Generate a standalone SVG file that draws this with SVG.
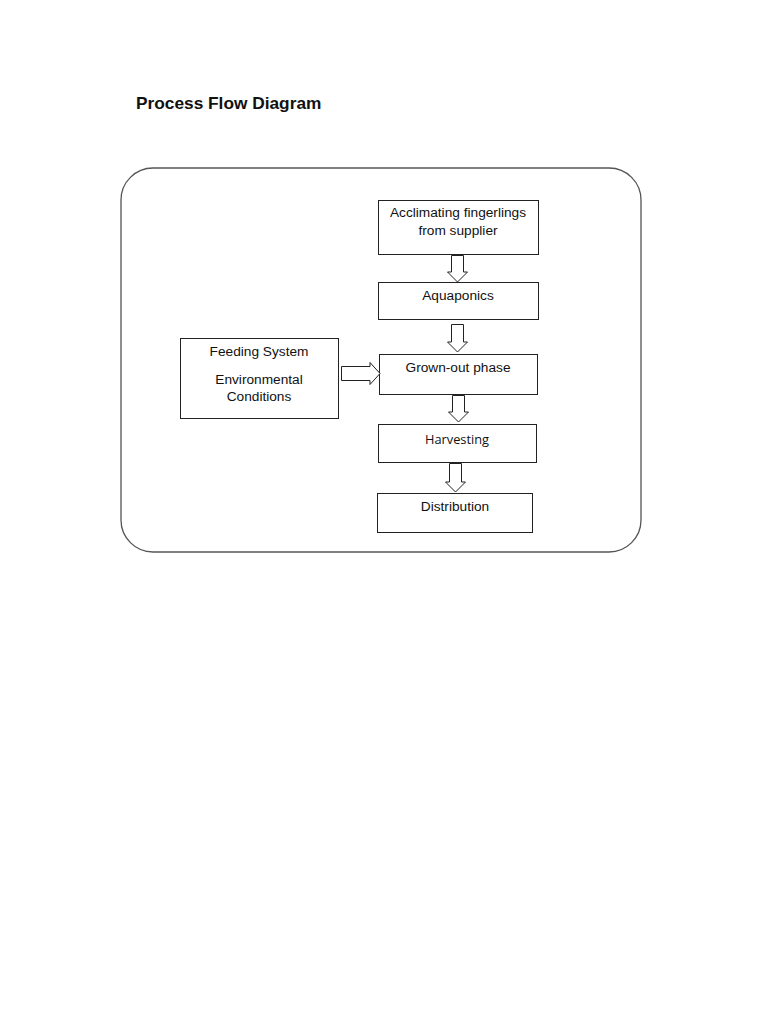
<svg xmlns="http://www.w3.org/2000/svg" width="768" height="1024" viewBox="0 0 768 1024">
<style>
.box{fill:#fff;stroke:#222;stroke-width:1}
.t{font-family:"Liberation Sans",Arial,sans-serif;font-size:13.7px;fill:#111;text-anchor:middle}
.c{font-family:"Open Sans","Liberation Sans",sans-serif;font-size:12.8px;fill:#111;text-anchor:middle}
.arr{fill:#fff;stroke:#222;stroke-width:1}
</style>
<rect width="768" height="1024" fill="#fff"/>
<text x="136" y="109" font-family="Liberation Sans,Arial,sans-serif" font-weight="bold" font-size="17.3" fill="#111">Process Flow Diagram</text>
<rect x="121" y="168" width="520" height="384" rx="32" ry="32" fill="none" stroke="#555" stroke-width="1.3"/>
<g id="n1"><rect class="box" x="378.5" y="200.5" width="160" height="54"/><text class="t" x="458" y="217">Acclimating fingerlings</text><text class="t" x="458" y="235">from supplier</text></g>
<g id="n2"><rect class="box" x="378.5" y="282.5" width="160" height="37"/><text class="t" x="458" y="300">Aquaponics</text></g>
<g id="n3"><rect class="box" x="180.5" y="338.5" width="158" height="80"/><text class="t" x="259" y="356">Feeding System</text><text class="t" x="259" y="384">Environmental</text><text class="t" x="259" y="401">Conditions</text></g>
<g id="n4"><rect class="box" x="379.5" y="354.5" width="158" height="40"/><text class="t" x="458" y="372">Grown-out phase</text></g>
<g id="n5"><rect class="box" x="378.5" y="424.5" width="158" height="38"/><text class="c" x="457" y="444">Harvesting</text></g>
<g id="n6"><rect class="box" x="377.5" y="493.5" width="155" height="39"/><text class="t" x="455" y="511">Distribution</text></g>
<g id="connectors">
<polygon class="arr" points="451.5,255.5 463.5,255.5 463.5,272 467.5,272 457.5,282 447.5,272 451.5,272"/>
<polygon class="arr" points="451.5,324.5 463.5,324.5 463.5,342 467.5,342 457.5,352 447.5,342 451.5,342"/>
<polygon class="arr" points="452.5,395.5 464.5,395.5 464.5,412 468.5,412 458.5,422 448.5,412 452.5,412"/>
<polygon class="arr" points="449.5,463.5 461.5,463.5 461.5,482 465.5,482 455.5,492 445.5,482 449.5,482"/>
<polygon class="arr" points="341.5,366.5 370,366.5 370,362.5 380,373.5 370,384.5 370,380.5 341.5,380.5"/>
</g>
</svg>
